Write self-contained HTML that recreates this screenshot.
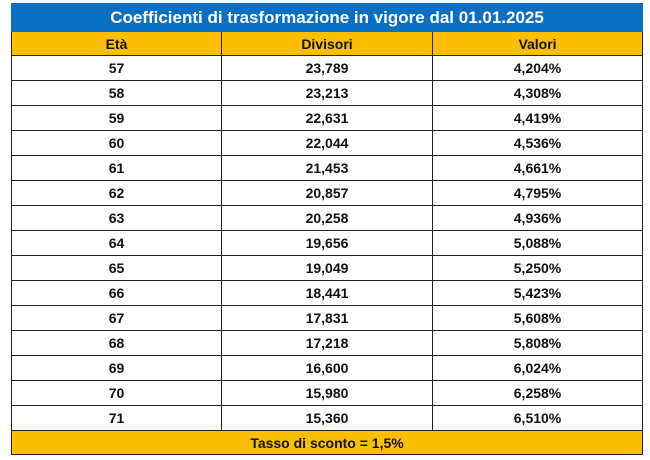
<!DOCTYPE html>
<html><head><style>
body{margin:0;background:#fff;width:650px;height:460px;overflow:hidden;font-family:"Liberation Sans",sans-serif;}
table{position:absolute;left:11px;top:3px;border-collapse:collapse;width:631px;table-layout:fixed;}
td{border:1px solid #222;text-align:center;font-weight:bold;font-size:14px;color:#111;height:24px;padding:0;}
.t td{background:#0a6fc2;color:#fff;font-size:17px;height:27px;border-color:#0a6fc2;}
.h td{background:#fcbf00;height:23px;}
.f td{background:#fcbf00;height:23px;}
</style></head><body>
<table>
<col style="width:210px"><col style="width:211px"><col style="width:210px">
<tr class="t"><td colspan="3">Coefficienti di trasformazione in vigore dal 01.01.2025</td></tr>
<tr class="h"><td>Età</td><td>Divisori</td><td>Valori</td></tr>
<tr><td>57</td><td>23,789</td><td>4,204%</td></tr>
<tr><td>58</td><td>23,213</td><td>4,308%</td></tr>
<tr><td>59</td><td>22,631</td><td>4,419%</td></tr>
<tr><td>60</td><td>22,044</td><td>4,536%</td></tr>
<tr><td>61</td><td>21,453</td><td>4,661%</td></tr>
<tr><td>62</td><td>20,857</td><td>4,795%</td></tr>
<tr><td>63</td><td>20,258</td><td>4,936%</td></tr>
<tr><td>64</td><td>19,656</td><td>5,088%</td></tr>
<tr><td>65</td><td>19,049</td><td>5,250%</td></tr>
<tr><td>66</td><td>18,441</td><td>5,423%</td></tr>
<tr><td>67</td><td>17,831</td><td>5,608%</td></tr>
<tr><td>68</td><td>17,218</td><td>5,808%</td></tr>
<tr><td>69</td><td>16,600</td><td>6,024%</td></tr>
<tr><td>70</td><td>15,980</td><td>6,258%</td></tr>
<tr><td>71</td><td>15,360</td><td>6,510%</td></tr>
<tr class="f"><td colspan="3">Tasso di sconto = 1,5%</td></tr>
</table>
</body></html>
